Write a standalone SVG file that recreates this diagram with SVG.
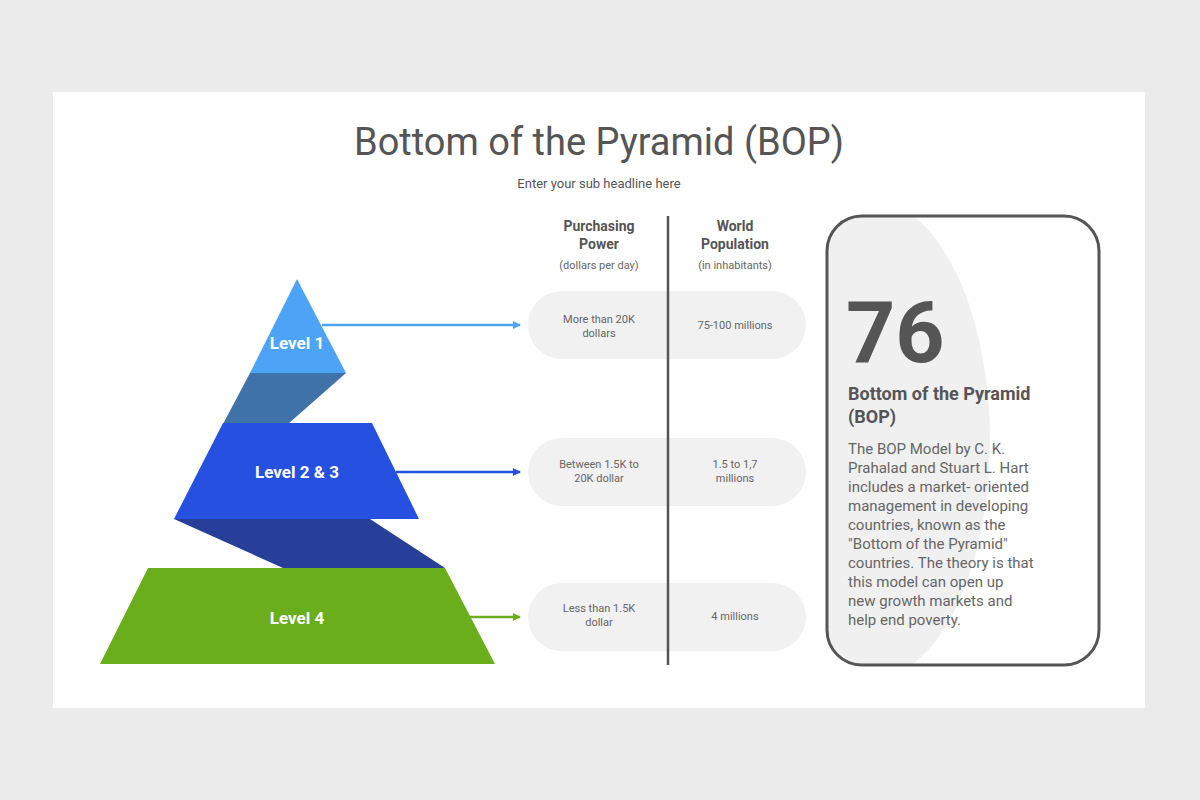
<svg xmlns="http://www.w3.org/2000/svg" width="1200" height="800" viewBox="0 0 1200 800">
<style>
text{font-family:Roboto,"Liberation Sans",sans-serif}
.lvl{fill:#fff;font-weight:bold;font-size:17px;text-anchor:middle}
.hd{fill:#555;font-weight:bold;font-size:14px;text-anchor:middle}
.sm{fill:#666;font-size:11px;text-anchor:middle}
.pill{fill:#f1f1f1}
.body{fill:#666;font-size:15px}
</style>
<defs>
<marker id="a1" markerWidth="8" markerHeight="8" refX="7" refY="4" orient="auto" markerUnits="userSpaceOnUse"><path d="M0,0L8,4L0,8z" fill="#4da3f5"/></marker>
<marker id="a2" markerWidth="8" markerHeight="8" refX="7" refY="4" orient="auto" markerUnits="userSpaceOnUse"><path d="M0,0L8,4L0,8z" fill="#2650e0"/></marker>
<marker id="a3" markerWidth="8" markerHeight="8" refX="7" refY="4" orient="auto" markerUnits="userSpaceOnUse"><path d="M0,0L8,4L0,8z" fill="#6aae1c"/></marker>
<clipPath id="cc"><rect x="827" y="216" width="272" height="449" rx="35"/></clipPath>
</defs>
<rect width="1200" height="800" fill="#ebebeb"/>
<rect x="53" y="92" width="1092" height="616" fill="#fff"/>
<text x="599" y="155" font-size="38" fill="#555" text-anchor="middle">Bottom of the Pyramid (BOP)</text>
<text x="599" y="188" font-size="13" fill="#555" text-anchor="middle">Enter your sub headline here</text>
<g id="pyramid">
<polygon points="250,373 346,373 288,424 223,424" fill="#3f72a8"/>
<polygon points="174,519 370,519 445,568 283,568" fill="#283f9a"/>
<g id="level1"><polygon points="297,279 346,373 250,373" fill="#4da3f5"/><text class="lvl" x="297" y="349">Level 1</text></g>
<g id="level23"><polygon points="223,423 372,423 419,519 174,519" fill="#2650e0"/><text class="lvl" x="297" y="478">Level 2 &amp; 3</text></g>
<g id="level4"><polygon points="148,568 445,568 495,664 100,664" fill="#6aae1c"/><text class="lvl" x="297" y="624">Level 4</text></g>
</g>
<g id="connectors">
<line x1="322" y1="325" x2="520" y2="325" stroke="#4da3f5" stroke-width="2.5" marker-end="url(#a1)"/>
<line x1="396" y1="472" x2="520" y2="472" stroke="#2650e0" stroke-width="2.5" marker-end="url(#a2)"/>
<line x1="470" y1="617" x2="520" y2="617" stroke="#6aae1c" stroke-width="2.5" marker-end="url(#a3)"/>
</g>
<g id="headers">
<text class="hd" x="599" y="231">Purchasing</text><text class="hd" x="599" y="249">Power</text>
<text class="sm" x="599" y="269">(dollars per day)</text>
<text class="hd" x="735" y="231">World</text><text class="hd" x="735" y="249">Population</text>
<text class="sm" x="735" y="269">(in inhabitants)</text>
</g>
<g id="row1"><rect class="pill" x="528" y="291" width="278" height="68" rx="34"/>
<text class="sm" x="599" y="323">More than 20K</text><text class="sm" x="599" y="337">dollars</text>
<text class="sm" x="735" y="329">75-100 millions</text></g>
<g id="row2"><rect class="pill" x="528" y="438" width="278" height="68" rx="34"/>
<text class="sm" x="599" y="468">Between 1.5K to</text><text class="sm" x="599" y="482">20K dollar</text>
<text class="sm" x="735" y="468">1.5 to 1,7</text><text class="sm" x="735" y="482">millions</text></g>
<g id="row3"><rect class="pill" x="528" y="583" width="278" height="68" rx="34"/>
<text class="sm" x="599" y="612">Less than 1.5K</text><text class="sm" x="599" y="626">dollar</text>
<text class="sm" x="735" y="620">4 millions</text></g>
<line x1="668" y1="216" x2="668" y2="665" stroke="#555" stroke-width="2.5"/>
<g id="card">
<ellipse cx="870" cy="440" rx="120" ry="240" fill="#f0f0f0" clip-path="url(#cc)"/>
<rect x="827" y="216" width="272" height="449" rx="35" fill="none" stroke="#555" stroke-width="3"/>
<text x="846" y="362" font-size="86" font-weight="bold" fill="#555">76</text>
<text x="848" y="400" font-size="18" font-weight="bold" fill="#555">Bottom of the Pyramid</text>
<text x="848" y="423" font-size="18" font-weight="bold" fill="#555">(BOP)</text>
<text class="body"><tspan x="848" y="454">The BOP Model by C. K.</tspan><tspan x="848" y="473">Prahalad and Stuart L. Hart</tspan><tspan x="848" y="492">includes a market- oriented</tspan><tspan x="848" y="511">management in developing</tspan><tspan x="848" y="530">countries, known as the</tspan><tspan x="848" y="549">"Bottom of the Pyramid"</tspan><tspan x="848" y="568">countries. The theory is that</tspan><tspan x="848" y="587">this model can open up</tspan><tspan x="848" y="606">new growth markets and</tspan><tspan x="848" y="625">help end poverty.</tspan></text>
</g>
</svg>
